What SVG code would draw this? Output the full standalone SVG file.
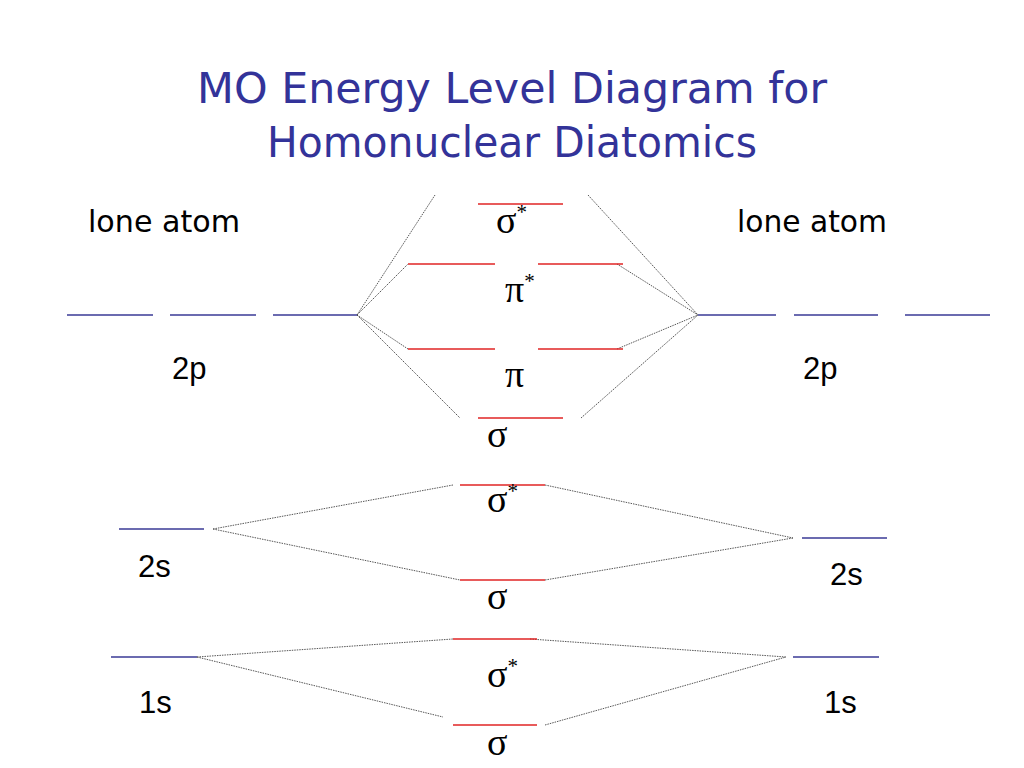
<svg xmlns="http://www.w3.org/2000/svg" width="1024" height="768" viewBox="0 0 1024 768">
<style>
.title{font-family:"DejaVu Sans","Noto Sans",sans-serif;font-size:43px;fill:#333399}
.lone{font-family:"DejaVu Sans","Noto Sans",sans-serif;font-size:31px;fill:#000}
.lbl{font-family:"Liberation Sans",Arial,sans-serif;font-size:31px;fill:#000}
.gk{font-family:"Liberation Serif","Times New Roman",serif;font-size:38px;fill:#000}
.st{font-size:21px}
.ao{stroke:#3a3a96;stroke-width:1.6;fill:none}
.mo{stroke:#e02424;stroke-width:1.6;fill:none}
.cn{stroke:#444;stroke-width:0.9;stroke-dasharray:1.5 1;fill:none}
</style>
<rect width="1024" height="768" fill="#fff"/>
<g id="title">
<text class="title" x="512" y="103" text-anchor="middle" textLength="630" lengthAdjust="spacingAndGlyphs">MO Energy Level Diagram for</text>
<text class="title" x="512" y="157" text-anchor="middle" textLength="490" lengthAdjust="spacingAndGlyphs">Homonuclear Diatomics</text>
</g>
<g id="headers">
<text class="lone" x="88" y="232" textLength="152" lengthAdjust="spacingAndGlyphs">lone atom</text>
<text class="lone" x="737" y="232" textLength="150" lengthAdjust="spacingAndGlyphs">lone atom</text>
</g>
<g id="connectors">
<line class="cn" x1="435" y1="195" x2="357" y2="315"/>
<line class="cn" x1="357" y1="315" x2="408" y2="264"/>
<line class="cn" x1="357" y1="315" x2="408" y2="349"/>
<line class="cn" x1="357" y1="315" x2="460" y2="418"/>
<line class="cn" x1="588" y1="195" x2="698" y2="315"/>
<line class="cn" x1="617" y1="264" x2="698" y2="315"/>
<line class="cn" x1="617" y1="349" x2="698" y2="315"/>
<line class="cn" x1="581" y1="418" x2="698" y2="315"/>
<line class="cn" x1="213" y1="529" x2="453" y2="485"/>
<line class="cn" x1="213" y1="529" x2="460" y2="580"/>
<line class="cn" x1="545" y1="485" x2="793" y2="538"/>
<line class="cn" x1="545" y1="580" x2="793" y2="538"/>
<line class="cn" x1="197" y1="657" x2="453" y2="639"/>
<line class="cn" x1="197" y1="657" x2="443" y2="717"/>
<line class="cn" x1="530" y1="639" x2="786" y2="657"/>
<line class="cn" x1="545" y1="725" x2="786" y2="657"/>
</g>
<g id="left-2p">
<line class="ao" x1="67" y1="315" x2="153" y2="315"/>
<line class="ao" x1="170" y1="315" x2="256" y2="315"/>
<line class="ao" x1="273" y1="315" x2="357" y2="315"/>
<text class="lbl" x="172" y="379">2p</text>
</g>
<g id="right-2p">
<line class="ao" x1="698" y1="315" x2="776" y2="315"/>
<line class="ao" x1="794" y1="315" x2="878" y2="315"/>
<line class="ao" x1="905" y1="315" x2="990" y2="315"/>
<text class="lbl" x="803" y="379">2p</text>
</g>
<g id="left-2s">
<line class="ao" x1="119" y1="529" x2="204" y2="529"/>
<text class="lbl" x="138" y="577">2s</text>
</g>
<g id="right-2s">
<line class="ao" x1="802" y1="538" x2="887" y2="538"/>
<text class="lbl" x="830" y="585">2s</text>
</g>
<g id="left-1s">
<line class="ao" x1="111" y1="657" x2="197" y2="657"/>
<text class="lbl" x="139" y="713">1s</text>
</g>
<g id="right-1s">
<line class="ao" x1="793" y1="657" x2="879" y2="657"/>
<text class="lbl" x="824" y="713">1s</text>
</g>
<g id="sigma-star-2p">
<line class="mo" x1="478" y1="204" x2="563" y2="204"/>
<text class="gk" x="496" y="233">σ<tspan class="st" dy="-14">*</tspan></text>
</g>
<g id="pi-star-2p">
<line class="mo" x1="408" y1="264" x2="495" y2="264"/>
<line class="mo" x1="538" y1="264" x2="623" y2="264"/>
<text class="gk" x="505" y="302">π<tspan class="st" dy="-14">*</tspan></text>
</g>
<g id="pi-2p">
<line class="mo" x1="408" y1="349" x2="495" y2="349"/>
<line class="mo" x1="538" y1="349" x2="623" y2="349"/>
<text class="gk" x="505" y="387">π</text>
</g>
<g id="sigma-2p">
<line class="mo" x1="478" y1="418" x2="563" y2="418"/>
<text class="gk" x="487" y="447">σ</text>
</g>
<g id="sigma-star-2s">
<line class="mo" x1="460" y1="485" x2="545" y2="485"/>
<text class="gk" x="487" y="512">σ<tspan class="st" dy="-14">*</tspan></text>
</g>
<g id="sigma-2s">
<line class="mo" x1="460" y1="580" x2="545" y2="580"/>
<text class="gk" x="487" y="609">σ</text>
</g>
<g id="sigma-star-1s">
<line class="mo" x1="453" y1="639" x2="537" y2="639"/>
<text class="gk" x="487" y="687">σ<tspan class="st" dy="-14">*</tspan></text>
</g>
<g id="sigma-1s">
<line class="mo" x1="453" y1="725" x2="537" y2="725"/>
<text class="gk" x="487" y="755">σ</text>
</g>
</svg>
